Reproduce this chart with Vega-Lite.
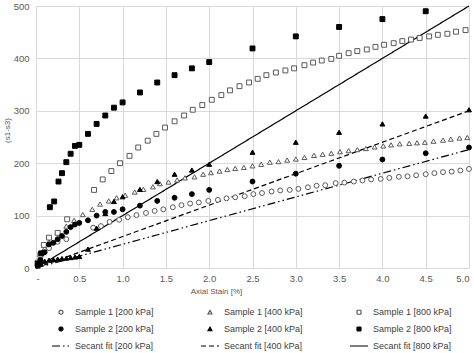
{
  "$schema": "https://vega.github.io/schema/vega-lite/v6.json",
  "width": 433,
  "height": 262,
  "autosize": {"type": "none"},
  "padding": {"left": 36, "top": 6, "right": 5, "bottom": 85},
  "config": {
    "font": "Liberation Sans",
    "view": {"stroke": null},
    "axis": {"gridColor": "#d9d9d9", "gridWidth": 1, "domain": false, "ticks": false, "labelColor": "#595959", "titleColor": "#595959", "labelFontSize": 9.5, "titleFontSize": 8, "titleFontWeight": "normal"},
    "legend": {"orient": "none", "direction": "horizontal", "legendX": 20.5, "legendY": 301.5, "columns": 3, "columnPadding": 44, "rowPadding": 7, "labelFontSize": 9, "labelOffset": 9.5, "labelColor": "#404040", "symbolSize": 16, "symbolStrokeWidth": 1.2, "symbolFillColor": "white", "gridAlign": "all", "padding": 0}
  },
  "datasets": {
    "points": [
      {"s": "Sample 1 [200 kPa]", "x": 0.02, "y": 5},
      {"s": "Sample 1 [200 kPa]", "x": 0.05, "y": 14},
      {"s": "Sample 1 [200 kPa]", "x": 0.09, "y": 30},
      {"s": "Sample 1 [200 kPa]", "x": 0.15, "y": 38},
      {"s": "Sample 1 [200 kPa]", "x": 0.25, "y": 50},
      {"s": "Sample 1 [200 kPa]", "x": 0.35, "y": 55},
      {"s": "Sample 1 [200 kPa]", "x": 0.66, "y": 77},
      {"s": "Sample 1 [200 kPa]", "x": 0.75, "y": 80},
      {"s": "Sample 1 [200 kPa]", "x": 0.85, "y": 88},
      {"s": "Sample 1 [200 kPa]", "x": 0.96, "y": 92},
      {"s": "Sample 1 [200 kPa]", "x": 1.06, "y": 97},
      {"s": "Sample 1 [200 kPa]", "x": 1.16, "y": 101},
      {"s": "Sample 1 [200 kPa]", "x": 1.27, "y": 105},
      {"s": "Sample 1 [200 kPa]", "x": 1.37, "y": 109},
      {"s": "Sample 1 [200 kPa]", "x": 1.47, "y": 112},
      {"s": "Sample 1 [200 kPa]", "x": 1.58, "y": 116},
      {"s": "Sample 1 [200 kPa]", "x": 1.68, "y": 120},
      {"s": "Sample 1 [200 kPa]", "x": 1.78, "y": 123},
      {"s": "Sample 1 [200 kPa]", "x": 1.88, "y": 125},
      {"s": "Sample 1 [200 kPa]", "x": 1.99, "y": 128},
      {"s": "Sample 1 [200 kPa]", "x": 2.1, "y": 130},
      {"s": "Sample 1 [200 kPa]", "x": 2.2, "y": 133},
      {"s": "Sample 1 [200 kPa]", "x": 2.3, "y": 135},
      {"s": "Sample 1 [200 kPa]", "x": 2.41, "y": 137},
      {"s": "Sample 1 [200 kPa]", "x": 2.51, "y": 141},
      {"s": "Sample 1 [200 kPa]", "x": 2.61, "y": 143},
      {"s": "Sample 1 [200 kPa]", "x": 2.72, "y": 146},
      {"s": "Sample 1 [200 kPa]", "x": 2.82, "y": 148},
      {"s": "Sample 1 [200 kPa]", "x": 2.93, "y": 149},
      {"s": "Sample 1 [200 kPa]", "x": 3.03, "y": 151},
      {"s": "Sample 1 [200 kPa]", "x": 3.14, "y": 154},
      {"s": "Sample 1 [200 kPa]", "x": 3.24, "y": 157},
      {"s": "Sample 1 [200 kPa]", "x": 3.34, "y": 158},
      {"s": "Sample 1 [200 kPa]", "x": 3.46, "y": 162},
      {"s": "Sample 1 [200 kPa]", "x": 3.56, "y": 163},
      {"s": "Sample 1 [200 kPa]", "x": 3.67, "y": 165},
      {"s": "Sample 1 [200 kPa]", "x": 3.77, "y": 167},
      {"s": "Sample 1 [200 kPa]", "x": 3.87, "y": 169},
      {"s": "Sample 1 [200 kPa]", "x": 3.98, "y": 170},
      {"s": "Sample 1 [200 kPa]", "x": 4.08, "y": 172},
      {"s": "Sample 1 [200 kPa]", "x": 4.19, "y": 174},
      {"s": "Sample 1 [200 kPa]", "x": 4.29, "y": 175},
      {"s": "Sample 1 [200 kPa]", "x": 4.39, "y": 177},
      {"s": "Sample 1 [200 kPa]", "x": 4.5, "y": 179},
      {"s": "Sample 1 [200 kPa]", "x": 4.6, "y": 181},
      {"s": "Sample 1 [200 kPa]", "x": 4.7, "y": 183},
      {"s": "Sample 1 [200 kPa]", "x": 4.8, "y": 184},
      {"s": "Sample 1 [200 kPa]", "x": 4.9, "y": 186},
      {"s": "Sample 1 [200 kPa]", "x": 5.0, "y": 189},
      {"s": "Sample 1 [400 kPa]", "x": 0.02, "y": 8},
      {"s": "Sample 1 [400 kPa]", "x": 0.05, "y": 22},
      {"s": "Sample 1 [400 kPa]", "x": 0.1, "y": 38},
      {"s": "Sample 1 [400 kPa]", "x": 0.15, "y": 50},
      {"s": "Sample 1 [400 kPa]", "x": 0.25, "y": 68},
      {"s": "Sample 1 [400 kPa]", "x": 0.35, "y": 80},
      {"s": "Sample 1 [400 kPa]", "x": 0.44, "y": 91},
      {"s": "Sample 1 [400 kPa]", "x": 0.54, "y": 102},
      {"s": "Sample 1 [400 kPa]", "x": 0.65, "y": 112},
      {"s": "Sample 1 [400 kPa]", "x": 0.74, "y": 122},
      {"s": "Sample 1 [400 kPa]", "x": 0.84, "y": 128},
      {"s": "Sample 1 [400 kPa]", "x": 0.93, "y": 134},
      {"s": "Sample 1 [400 kPa]", "x": 1.03, "y": 139},
      {"s": "Sample 1 [400 kPa]", "x": 1.14, "y": 145},
      {"s": "Sample 1 [400 kPa]", "x": 1.24, "y": 150},
      {"s": "Sample 1 [400 kPa]", "x": 1.35, "y": 155},
      {"s": "Sample 1 [400 kPa]", "x": 1.43, "y": 161},
      {"s": "Sample 1 [400 kPa]", "x": 1.53, "y": 164},
      {"s": "Sample 1 [400 kPa]", "x": 1.63, "y": 168},
      {"s": "Sample 1 [400 kPa]", "x": 1.72, "y": 172},
      {"s": "Sample 1 [400 kPa]", "x": 1.83, "y": 174},
      {"s": "Sample 1 [400 kPa]", "x": 1.93, "y": 179},
      {"s": "Sample 1 [400 kPa]", "x": 2.02, "y": 182},
      {"s": "Sample 1 [400 kPa]", "x": 2.12, "y": 185},
      {"s": "Sample 1 [400 kPa]", "x": 2.21, "y": 188},
      {"s": "Sample 1 [400 kPa]", "x": 2.3, "y": 190},
      {"s": "Sample 1 [400 kPa]", "x": 2.4, "y": 192},
      {"s": "Sample 1 [400 kPa]", "x": 2.5, "y": 195},
      {"s": "Sample 1 [400 kPa]", "x": 2.6, "y": 198},
      {"s": "Sample 1 [400 kPa]", "x": 2.7, "y": 202},
      {"s": "Sample 1 [400 kPa]", "x": 2.8, "y": 203},
      {"s": "Sample 1 [400 kPa]", "x": 2.9, "y": 206},
      {"s": "Sample 1 [400 kPa]", "x": 3.0, "y": 208},
      {"s": "Sample 1 [400 kPa]", "x": 3.1, "y": 211},
      {"s": "Sample 1 [400 kPa]", "x": 3.21, "y": 215},
      {"s": "Sample 1 [400 kPa]", "x": 3.31, "y": 217},
      {"s": "Sample 1 [400 kPa]", "x": 3.41, "y": 219},
      {"s": "Sample 1 [400 kPa]", "x": 3.51, "y": 222},
      {"s": "Sample 1 [400 kPa]", "x": 3.61, "y": 224},
      {"s": "Sample 1 [400 kPa]", "x": 3.71, "y": 226},
      {"s": "Sample 1 [400 kPa]", "x": 3.81, "y": 228},
      {"s": "Sample 1 [400 kPa]", "x": 3.91, "y": 231},
      {"s": "Sample 1 [400 kPa]", "x": 4.01, "y": 233},
      {"s": "Sample 1 [400 kPa]", "x": 4.1, "y": 235},
      {"s": "Sample 1 [400 kPa]", "x": 4.2, "y": 237},
      {"s": "Sample 1 [400 kPa]", "x": 4.31, "y": 238},
      {"s": "Sample 1 [400 kPa]", "x": 4.4, "y": 239},
      {"s": "Sample 1 [400 kPa]", "x": 4.49, "y": 240},
      {"s": "Sample 1 [400 kPa]", "x": 4.59, "y": 242},
      {"s": "Sample 1 [400 kPa]", "x": 4.7, "y": 244},
      {"s": "Sample 1 [400 kPa]", "x": 4.79, "y": 246},
      {"s": "Sample 1 [400 kPa]", "x": 4.89, "y": 248},
      {"s": "Sample 1 [400 kPa]", "x": 4.98, "y": 249},
      {"s": "Sample 1 [800 kPa]", "x": 0.02, "y": 10},
      {"s": "Sample 1 [800 kPa]", "x": 0.05, "y": 25},
      {"s": "Sample 1 [800 kPa]", "x": 0.09, "y": 44},
      {"s": "Sample 1 [800 kPa]", "x": 0.15, "y": 58},
      {"s": "Sample 1 [800 kPa]", "x": 0.25, "y": 67},
      {"s": "Sample 1 [800 kPa]", "x": 0.36, "y": 93},
      {"s": "Sample 1 [800 kPa]", "x": 0.67, "y": 149},
      {"s": "Sample 1 [800 kPa]", "x": 0.77, "y": 169},
      {"s": "Sample 1 [800 kPa]", "x": 0.87, "y": 185},
      {"s": "Sample 1 [800 kPa]", "x": 0.97, "y": 200},
      {"s": "Sample 1 [800 kPa]", "x": 1.08, "y": 214},
      {"s": "Sample 1 [800 kPa]", "x": 1.18, "y": 230},
      {"s": "Sample 1 [800 kPa]", "x": 1.29, "y": 243},
      {"s": "Sample 1 [800 kPa]", "x": 1.39, "y": 256},
      {"s": "Sample 1 [800 kPa]", "x": 1.49, "y": 268},
      {"s": "Sample 1 [800 kPa]", "x": 1.6, "y": 280},
      {"s": "Sample 1 [800 kPa]", "x": 1.71, "y": 291},
      {"s": "Sample 1 [800 kPa]", "x": 1.81, "y": 302},
      {"s": "Sample 1 [800 kPa]", "x": 1.92, "y": 311},
      {"s": "Sample 1 [800 kPa]", "x": 2.03, "y": 321},
      {"s": "Sample 1 [800 kPa]", "x": 2.14, "y": 330},
      {"s": "Sample 1 [800 kPa]", "x": 2.24, "y": 339},
      {"s": "Sample 1 [800 kPa]", "x": 2.35, "y": 347},
      {"s": "Sample 1 [800 kPa]", "x": 2.46, "y": 354},
      {"s": "Sample 1 [800 kPa]", "x": 2.56, "y": 361},
      {"s": "Sample 1 [800 kPa]", "x": 2.66, "y": 368},
      {"s": "Sample 1 [800 kPa]", "x": 2.77, "y": 373},
      {"s": "Sample 1 [800 kPa]", "x": 2.88, "y": 377},
      {"s": "Sample 1 [800 kPa]", "x": 2.98, "y": 381},
      {"s": "Sample 1 [800 kPa]", "x": 3.1, "y": 387},
      {"s": "Sample 1 [800 kPa]", "x": 3.2, "y": 392},
      {"s": "Sample 1 [800 kPa]", "x": 3.3, "y": 396},
      {"s": "Sample 1 [800 kPa]", "x": 3.41, "y": 399},
      {"s": "Sample 1 [800 kPa]", "x": 3.5, "y": 405},
      {"s": "Sample 1 [800 kPa]", "x": 3.61, "y": 410},
      {"s": "Sample 1 [800 kPa]", "x": 3.71, "y": 414},
      {"s": "Sample 1 [800 kPa]", "x": 3.82, "y": 417},
      {"s": "Sample 1 [800 kPa]", "x": 3.92, "y": 422},
      {"s": "Sample 1 [800 kPa]", "x": 4.02, "y": 426},
      {"s": "Sample 1 [800 kPa]", "x": 4.13, "y": 429},
      {"s": "Sample 1 [800 kPa]", "x": 4.23, "y": 433},
      {"s": "Sample 1 [800 kPa]", "x": 4.33, "y": 436},
      {"s": "Sample 1 [800 kPa]", "x": 4.43, "y": 439},
      {"s": "Sample 1 [800 kPa]", "x": 4.54, "y": 442},
      {"s": "Sample 1 [800 kPa]", "x": 4.64, "y": 445},
      {"s": "Sample 1 [800 kPa]", "x": 4.75, "y": 447},
      {"s": "Sample 1 [800 kPa]", "x": 4.85, "y": 451},
      {"s": "Sample 1 [800 kPa]", "x": 4.96, "y": 454},
      {"s": "Sample 2 [200 kPa]", "x": 0.02, "y": 5},
      {"s": "Sample 2 [200 kPa]", "x": 0.05, "y": 15},
      {"s": "Sample 2 [200 kPa]", "x": 0.1, "y": 30},
      {"s": "Sample 2 [200 kPa]", "x": 0.15, "y": 45},
      {"s": "Sample 2 [200 kPa]", "x": 0.2, "y": 48},
      {"s": "Sample 2 [200 kPa]", "x": 0.25, "y": 55},
      {"s": "Sample 2 [200 kPa]", "x": 0.3, "y": 61},
      {"s": "Sample 2 [200 kPa]", "x": 0.35, "y": 69},
      {"s": "Sample 2 [200 kPa]", "x": 0.4, "y": 78},
      {"s": "Sample 2 [200 kPa]", "x": 0.45, "y": 83},
      {"s": "Sample 2 [200 kPa]", "x": 0.5, "y": 86},
      {"s": "Sample 2 [200 kPa]", "x": 0.6, "y": 91},
      {"s": "Sample 2 [200 kPa]", "x": 0.7, "y": 100},
      {"s": "Sample 2 [200 kPa]", "x": 0.8, "y": 107},
      {"s": "Sample 2 [200 kPa]", "x": 0.9, "y": 107},
      {"s": "Sample 2 [200 kPa]", "x": 1.0, "y": 112},
      {"s": "Sample 2 [200 kPa]", "x": 1.2, "y": 119},
      {"s": "Sample 2 [200 kPa]", "x": 1.4, "y": 128},
      {"s": "Sample 2 [200 kPa]", "x": 1.6, "y": 134},
      {"s": "Sample 2 [200 kPa]", "x": 1.8, "y": 141},
      {"s": "Sample 2 [200 kPa]", "x": 2.0, "y": 149},
      {"s": "Sample 2 [200 kPa]", "x": 2.5, "y": 165},
      {"s": "Sample 2 [200 kPa]", "x": 3.0, "y": 180},
      {"s": "Sample 2 [200 kPa]", "x": 3.5, "y": 195},
      {"s": "Sample 2 [200 kPa]", "x": 4.0, "y": 207},
      {"s": "Sample 2 [200 kPa]", "x": 4.5, "y": 219},
      {"s": "Sample 2 [200 kPa]", "x": 5.0, "y": 230},
      {"s": "Sample 2 [400 kPa]", "x": 0.02, "y": 4},
      {"s": "Sample 2 [400 kPa]", "x": 0.05, "y": 9},
      {"s": "Sample 2 [400 kPa]", "x": 0.1, "y": 13},
      {"s": "Sample 2 [400 kPa]", "x": 0.15, "y": 15},
      {"s": "Sample 2 [400 kPa]", "x": 0.2, "y": 16},
      {"s": "Sample 2 [400 kPa]", "x": 0.25, "y": 17},
      {"s": "Sample 2 [400 kPa]", "x": 0.3, "y": 18},
      {"s": "Sample 2 [400 kPa]", "x": 0.35, "y": 19},
      {"s": "Sample 2 [400 kPa]", "x": 0.4, "y": 20},
      {"s": "Sample 2 [400 kPa]", "x": 0.45, "y": 21},
      {"s": "Sample 2 [400 kPa]", "x": 0.5, "y": 22},
      {"s": "Sample 2 [400 kPa]", "x": 0.6, "y": 36},
      {"s": "Sample 2 [400 kPa]", "x": 0.7, "y": 76},
      {"s": "Sample 2 [400 kPa]", "x": 0.8, "y": 104},
      {"s": "Sample 2 [400 kPa]", "x": 0.9, "y": 127},
      {"s": "Sample 2 [400 kPa]", "x": 1.0, "y": 136},
      {"s": "Sample 2 [400 kPa]", "x": 1.2, "y": 150},
      {"s": "Sample 2 [400 kPa]", "x": 1.4, "y": 165},
      {"s": "Sample 2 [400 kPa]", "x": 1.6, "y": 179},
      {"s": "Sample 2 [400 kPa]", "x": 1.8, "y": 187},
      {"s": "Sample 2 [400 kPa]", "x": 2.0, "y": 198},
      {"s": "Sample 2 [400 kPa]", "x": 2.5, "y": 221},
      {"s": "Sample 2 [400 kPa]", "x": 3.0, "y": 240},
      {"s": "Sample 2 [400 kPa]", "x": 3.5, "y": 259},
      {"s": "Sample 2 [400 kPa]", "x": 4.0, "y": 275},
      {"s": "Sample 2 [400 kPa]", "x": 4.5, "y": 290},
      {"s": "Sample 2 [400 kPa]", "x": 5.0, "y": 302},
      {"s": "Sample 2 [800 kPa]", "x": 0.02, "y": 8},
      {"s": "Sample 2 [800 kPa]", "x": 0.06, "y": 28},
      {"s": "Sample 2 [800 kPa]", "x": 0.16, "y": 116},
      {"s": "Sample 2 [800 kPa]", "x": 0.21, "y": 127},
      {"s": "Sample 2 [800 kPa]", "x": 0.26, "y": 165},
      {"s": "Sample 2 [800 kPa]", "x": 0.3, "y": 181},
      {"s": "Sample 2 [800 kPa]", "x": 0.35, "y": 202},
      {"s": "Sample 2 [800 kPa]", "x": 0.4, "y": 218},
      {"s": "Sample 2 [800 kPa]", "x": 0.45, "y": 233},
      {"s": "Sample 2 [800 kPa]", "x": 0.5, "y": 235},
      {"s": "Sample 2 [800 kPa]", "x": 0.6, "y": 256},
      {"s": "Sample 2 [800 kPa]", "x": 0.7, "y": 275},
      {"s": "Sample 2 [800 kPa]", "x": 0.8, "y": 291},
      {"s": "Sample 2 [800 kPa]", "x": 0.9, "y": 306},
      {"s": "Sample 2 [800 kPa]", "x": 1.0, "y": 316},
      {"s": "Sample 2 [800 kPa]", "x": 1.2, "y": 335},
      {"s": "Sample 2 [800 kPa]", "x": 1.4, "y": 354},
      {"s": "Sample 2 [800 kPa]", "x": 1.6, "y": 368},
      {"s": "Sample 2 [800 kPa]", "x": 1.8, "y": 381},
      {"s": "Sample 2 [800 kPa]", "x": 2.0, "y": 393},
      {"s": "Sample 2 [800 kPa]", "x": 2.5, "y": 419},
      {"s": "Sample 2 [800 kPa]", "x": 3.0, "y": 442},
      {"s": "Sample 2 [800 kPa]", "x": 3.5, "y": 460},
      {"s": "Sample 2 [800 kPa]", "x": 4.0, "y": 475},
      {"s": "Sample 2 [800 kPa]", "x": 4.5, "y": 490}
    ],
    "lines": [
      {"s": "Secant fit [200 kPa]", "x": 0, "y": 0},
      {"s": "Secant fit [200 kPa]", "x": 5, "y": 226},
      {"s": "Secant fit [400 kPa]", "x": 0, "y": 0},
      {"s": "Secant fit [400 kPa]", "x": 5, "y": 300},
      {"s": "Secant fit [800 kPa]", "x": 0, "y": 0},
      {"s": "Secant fit [800 kPa]", "x": 5, "y": 500}
    ]
  },
  "layer": [
    {
      "data": {"name": "lines"},
      "mark": {"type": "line", "stroke": "black", "strokeWidth": 1.2},
      "encoding": {
        "x": {"field": "x", "type": "quantitative"},
        "y": {"field": "y", "type": "quantitative"},
        "strokeDash": {"field": "s", "type": "nominal", "legend": {"title": null}, "scale": {"domain": ["Sample 1 [200 kPa]", "Sample 1 [400 kPa]", "Sample 1 [800 kPa]", "Sample 2 [200 kPa]", "Sample 2 [400 kPa]", "Sample 2 [800 kPa]", "Secant fit [200 kPa]", "Secant fit [400 kPa]", "Secant fit [800 kPa]"], "range": [[1, 0], [1, 0], [1, 0], [1, 0], [1, 0], [1, 0], [8, 3, 1.5, 3, 1.5, 3], [5, 3], [1, 0]]}}
      }
    },
    {
      "data": {"name": "points"},
      "mark": {"type": "point", "size": 24, "strokeWidth": 1, "opacity": 1},
      "encoding": {
        "x": {"field": "x", "type": "quantitative", "scale": {"domain": [0, 5], "nice": false}, "axis": {"values": [0, 0.5, 1, 1.5, 2, 2.5, 3, 3.5, 4, 4.5, 5], "labelExpr": "datum.value === 0 ? '-' : format(datum.value, '.1f')", "labelPadding": 5, "title": "Axial Stain [%]", "titleX": 180, "titleY": 23, "titleBaseline": "middle", "titleAlign": "center", "titleAnchor": null}},
        "y": {"field": "y", "type": "quantitative", "scale": {"domain": [0, 500], "nice": false}, "axis": {"values": [0, 50, 100, 150, 200, 250, 300, 350, 400, 450, 500], "labelPadding": 7, "title": "(s1-s3)", "titleX": -29, "titleY": 124, "titleAngle": -90, "titleBaseline": "middle", "titleAlign": "center", "titleAnchor": null}},
        "shape": {"field": "s", "type": "nominal", "legend": {"title": null}, "scale": {"domain": ["Sample 1 [200 kPa]", "Sample 1 [400 kPa]", "Sample 1 [800 kPa]", "Sample 2 [200 kPa]", "Sample 2 [400 kPa]", "Sample 2 [800 kPa]", "Secant fit [200 kPa]", "Secant fit [400 kPa]", "Secant fit [800 kPa]"], "range": ["circle", "triangle-up", "square", "circle", "triangle-up", "square", "M-4.5,0H4.5", "M-4.5,0H4.5", "M-4.5,0H4.5"]}},
        "fill": {"field": "s", "type": "nominal", "legend": {"title": null}, "scale": {"domain": ["Sample 1 [200 kPa]", "Sample 1 [400 kPa]", "Sample 1 [800 kPa]", "Sample 2 [200 kPa]", "Sample 2 [400 kPa]", "Sample 2 [800 kPa]", "Secant fit [200 kPa]", "Secant fit [400 kPa]", "Secant fit [800 kPa]"], "range": ["white", "white", "white", "black", "black", "black", "transparent", "transparent", "transparent"]}},
        "stroke": {"field": "s", "type": "nominal", "legend": {"title": null}, "scale": {"domain": ["Sample 1 [200 kPa]", "Sample 1 [400 kPa]", "Sample 1 [800 kPa]", "Sample 2 [200 kPa]", "Sample 2 [400 kPa]", "Sample 2 [800 kPa]", "Secant fit [200 kPa]", "Secant fit [400 kPa]", "Secant fit [800 kPa]"], "range": ["#595959", "#595959", "#595959", "black", "black", "black", "black", "black", "black"]}}
      }
    }
  ]
}
